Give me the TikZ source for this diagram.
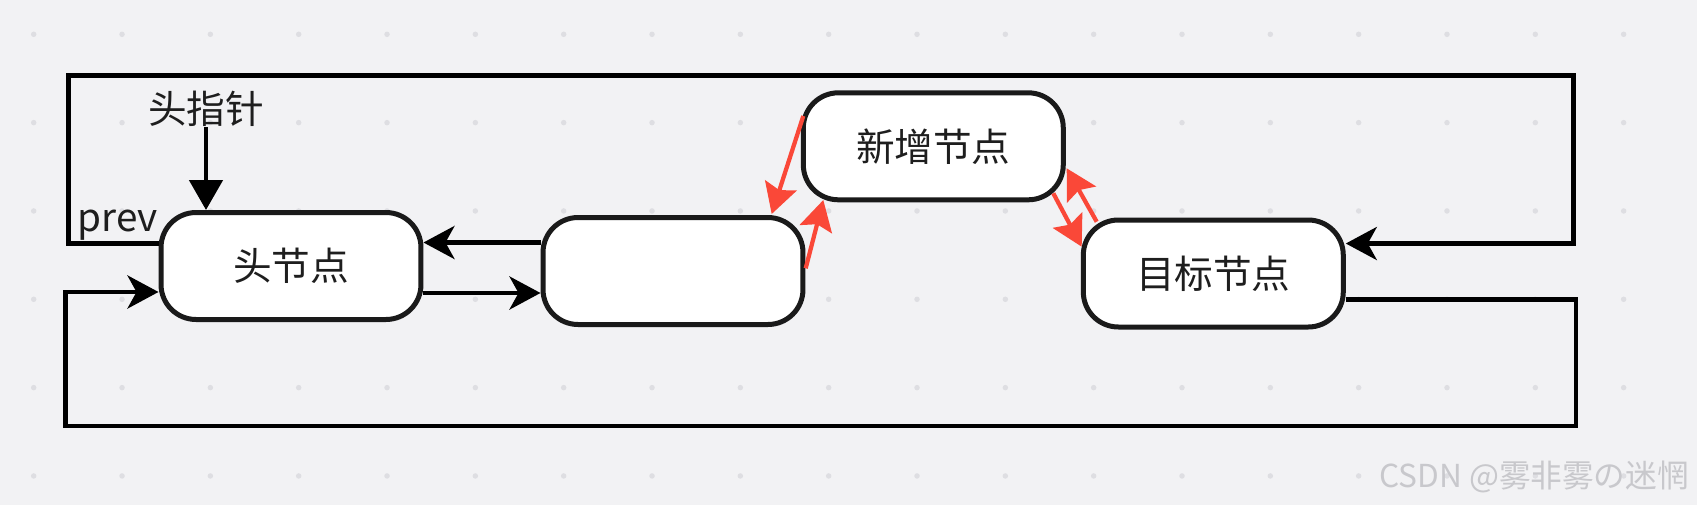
\documentclass[tikz,border=0pt]{standalone}
\usepackage{fontspec}
\setmainfont{Noto Sans CJK SC}
\usetikzlibrary{arrows.meta,calc}

\definecolor{canvas}{RGB}{242,242,244}
\definecolor{griddot}{RGB}{222,222,226}
\definecolor{nodeline}{RGB}{26,26,26}
\definecolor{linkred}{RGB}{250,72,56}
\definecolor{textdark}{RGB}{30,30,30}
\definecolor{markgray}{RGB}{200,200,204}

\tikzstyle{listnode} = [rectangle, draw=nodeline, fill=white, line width=0.1cm,
rounded corners=0.7cm, minimum width=5.2cm, minimum height=2.14cm, inner sep=0pt,
text=textdark, font=\fontsize{22}{26}\selectfont]
\tikzstyle{plaintext} = [inner sep=0pt, text=textdark, font=\fontsize{22}{26}\selectfont]
\tikzstyle{link} = [draw, line width=0.095cm, -{Stealth[length=0.62cm,width=0.66cm,inset=0.18cm]}]
\tikzstyle{pointer} = [draw, line width=0.095cm, -{Triangle[length=0.6cm,width=0.66cm]}]
\tikzstyle{redlink} = [draw=linkred, line width=0.085cm, -{Stealth[length=0.6cm,width=0.66cm,inset=0.1cm]}]

\begin{document}
\begin{tikzpicture}[x=0.02cm, y=-0.02cm]

	%Canvas with the dot grid
	\path[use as bounding box, fill=canvas] (0,0) rectangle (1697,505);
	\foreach \i in {0,...,18}{
		\foreach \j in {0,...,5}{
			\fill[griddot] (33.7+88.33*\i, 34.3+88.33*\j) circle[radius=0.055cm];
		}
	}

	%Nodes of the list
	\node[listnode](head) at (291,266) {头节点};
	\node[listnode](second) at (673,271) {};
	\node[listnode](added) at (933.3,146.3) {新增节点};
	\node[listnode](target) at (1213.3,273.5) {目标节点};

	%Head pointer and labels
	\node[plaintext](ptr) at (206,109) {头指针};
	\node[plaintext, anchor=base](prev) at (118,231) {prev};
	\draw[pointer] (ptr.south) -- (ptr.south |- head.north);

	%Links between head and second node
	\coordinate (backin) at ([yshift=0.57cm]second.west);
	\coordinate (nextin) at ([yshift=-0.54cm]head.east);
	\path[link] (backin) -- (backin -| head.east);
	\path[link] (nextin) -- (nextin -| second.west);

	%Ring links round the whole list
	\coordinate (topleft) at (68.3,75.3);
	\coordinate (topright) at (1573.7,75.3);
	\coordinate (botright) at (1576,426);
	\coordinate (botleft) at (65.3,426);
	\coordinate (prevout) at ([yshift=0.45cm]head.west);
	\coordinate (tailin) at ([yshift=0.6cm]target.east);
	\coordinate (tailout) at ([yshift=-0.52cm]target.east);
	\coordinate (headin) at ([yshift=-0.52cm]head.west);
	\path[link] (prevout) -| (topleft) -- (topright) |- (tailin);
	\path[link] (tailout) -| (botright) -- (botleft) |- (headin);

	%Red links of the inserted node
	\path[redlink] ($(added)+(-130,-30.3)$) -- ($(second)+(98.7,-57)$);
	\path[redlink] ($(second)+(132.7,-2.7)$) -- ($(added)+(-110,53.7)$);
	\path[redlink] ($(added)+(120,47)$) -- ($(target)+(-131.6,-26.8)$);
	\path[redlink] ($(target)+(-116.6,-51.8)$) -- ($(added)+(133.4,22)$);

	%Watermark
	\node[text=markgray, font=\fontsize{18}{20}\selectfont](mark) at (1534,477) {CSDN @雾非雾の迷惘};
\end{tikzpicture}
\end{document}
